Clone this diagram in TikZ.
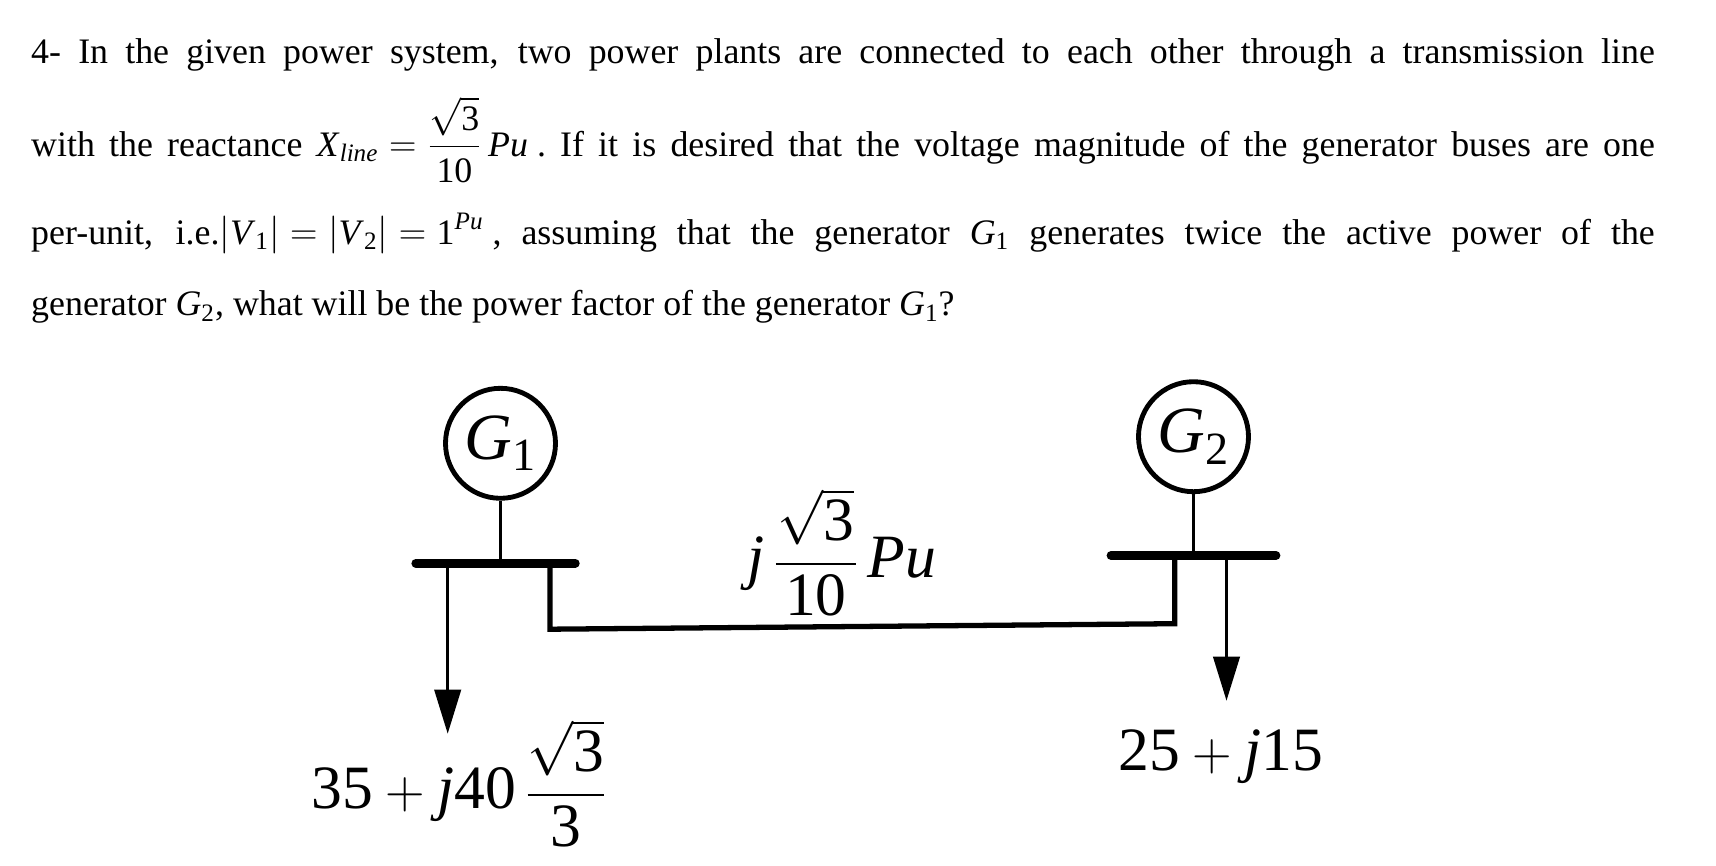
\documentclass[tikz,border=0pt]{standalone}
\usepackage{amsmath}
\usepackage{fontspec}
\setmainfont{Liberation Serif}
\usetikzlibrary{arrows.meta}
\newcommand{\ti}[1]{\text{\textit{#1}}}
\newcommand{\tr}[1]{\text{\upshape #1}}
\begin{document}
\begin{tikzpicture}[x=0.5pt,y=-0.5pt,
  gen/.style={circle,draw,line width=2.2pt,minimum size=50pt,inner sep=0pt,font=\fontsize{30}{30}\selectfont},
  bus/.style={line width=4pt,line cap=round},
  wire/.style={line width=1.6pt},
  load/.style={line width=1.3pt,-{Triangle[width=12pt,length=20pt]}},
  txt/.style={anchor=base west,inner sep=0pt,font=\fontsize{16.3}{18}\selectfont},
  lab/.style={inner sep=0pt,font=\fontsize{28}{30}\selectfont}]
\useasboundingbox (0,0) rectangle (1560,787);
\node[txt] (l1) at (28,58) {\makebox[738pt][s]{4- In the given power system, two power plants are connected to each other through a transmission line}};
\node[txt] (l2) at (28,142) {\makebox[738pt][s]{with the reactance \mbox{$\ti{X}_{\ti{line}}=\dfrac{\sqrt{\tr{3}}}{\tr{10}}\,\ti{Pu}$ .} If it is desired that the voltage magnitude of the generator buses are one}};
\node[txt] (l3) at (28,222) {\makebox[738pt][s]{per-unit, i.e.\mbox{$|\ti{V}_{\tr{1}}|=|\ti{V}_{\tr{2}}|=\tr{1}^{\ti{Pu}}$ ,} assuming that the generator \mbox{$\ti{G}_{\tr{1}}$} generates twice the active power of the}};
\node[txt] (l4) at (28,287) {generator $\ti{G}_{\tr{2}}$, what will be the power factor of the generator $\ti{G}_{\tr{1}}$?};
\node[gen] (g1) at (455,403) {$\ti{G}_{\tr{1}}$};
\node[gen] (g2) at (1085,397) {$\ti{G}_{\tr{2}}$};
\coordinate (b1l) at (378,512); \coordinate (b1r) at (523,512);
\coordinate (b2l) at (1010,505); \coordinate (b2r) at (1160,505);
\draw[bus] (b1l) -- (b1r);
\draw[bus] (b2l) -- (b2r);
\coordinate (s1) at (455,512); \coordinate (s2) at (1085,505);
\draw[wire] (g1) -- (s1);
\draw[wire] (g2) -- (s2);
\coordinate (t1) at (500,512); \coordinate (t2) at (1068,505);
\draw[line width=2.4pt] (t1) -- (500,572) -- (1068,567) -- (t2);
\coordinate (a1) at (407,512); \coordinate (e1) at (407,667);
\coordinate (a2) at (1115,505); \coordinate (e2) at (1115,637);
\draw[load] (a1) -- (e1);
\draw[load] (a2) -- (e2);
\node[lab] (ll) at (765,502) {$\ti{j}\,\dfrac{\sqrt{\tr{3}}}{\,\tr{10}\,}\,\ti{Pu}$};
\node[lab,anchor=east] (lg1) at (552,712) {$\tr{35}+\ti{j}\tr{40}\,\dfrac{\sqrt{\tr{3}}}{\,\tr{3}\,}$};
\node[lab] (lg2) at (1110,688) {$\tr{25}+\ti{j}\tr{15}$};
\end{tikzpicture}
\end{document}
